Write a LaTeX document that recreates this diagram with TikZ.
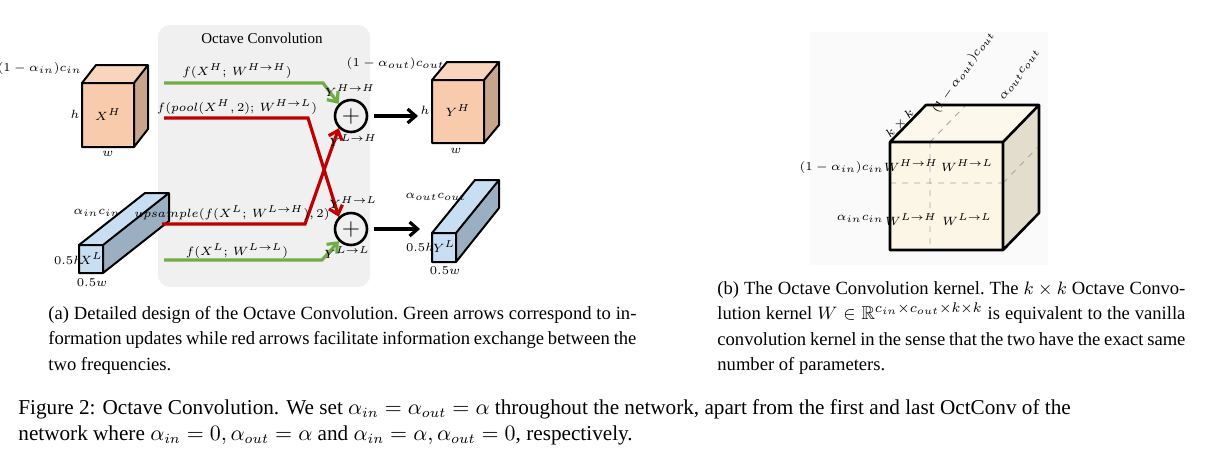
\documentclass[tikz,border=0pt]{standalone}
\usepackage{amssymb}
\usepackage{fontspec}
\setmainfont{Liberation Serif}
\usetikzlibrary{arrows.meta}
\definecolor{pk}{RGB}{248,203,173}\definecolor{pks}{RGB}{200,164,138}
\definecolor{bl}{RGB}{200,222,242}\definecolor{bls}{RGB}{155,175,194}
\definecolor{cr}{RGB}{252,246,231}\definecolor{crs}{RGB}{227,221,205}
\definecolor{gr}{RGB}{112,173,71}\definecolor{rd}{RGB}{192,0,0}
\definecolor{pan}{RGB}{240,240,240}\definecolor{kbg}{RGB}{250,250,250}
\begin{document}
\begin{tikzpicture}[x=0.5pt,y=-0.5pt,
  lab/.style={font=\fontsize{6}{7}\selectfont, inner sep=0pt},
  big/.style={font=\fontsize{7.5}{9}\selectfont, inner sep=0pt},
  garr/.style={draw=gr, line width=1.6pt, -{Straight Barb[length=4pt,width=7pt]}},
  rarr/.style={draw=rd, line width=1.6pt, -{Straight Barb[length=4pt,width=7pt]}},
  barr/.style={draw=black, line width=1.6pt, -{Straight Barb[length=4pt,width=7pt]}},
  cube/.style={draw=black, line width=1pt, line join=round},
  captxt/.style={font=\fontsize{9.3}{12.7}\selectfont, inner sep=0pt, anchor=north west, align=justify}]
\useasboundingbox (0,0) rectangle (1224,456);
% panel
\fill[pan, rounded corners=6pt] (158,25) rectangle (370,287);
\node[big] (title) at (262,38) {Octave Convolution};
% XH cube
\fill[pks] (134,83)--(148,65)--(148,129)--(134,147)--cycle;
\fill[pk!80!white] (82,83)--(96,65)--(148,65)--(134,83)--cycle;
\fill[pk] (82,83) rectangle (134,147);
\draw[cube] (82,83)--(96,65)--(148,65)--(148,129)--(134,147)--(82,147)--cycle (82,83)--(134,83)--(134,147) (134,83)--(148,65);
\node[lab] (xh) at (108,115) {$X^H$};
\node[lab,anchor=east] (cinh) at (82,68) {$(1-\alpha_{in})c_{in}$};
\node[lab] (hh) at (75,114) {$h$};
\node[lab] (wh) at (108,154) {$w$};
% XL cube
\fill[bls] (103,245)--(169,193)--(169,221)--(103,273)--cycle;
\fill[bl] (79,245)--(145,193)--(169,193)--(103,245)--cycle;
\fill[bl] (79,245) rectangle (103,273);
\draw[cube] (79,245)--(145,193)--(169,193)--(169,221)--(103,273)--(79,273)--cycle (79,245)--(103,245)--(103,273) (103,245)--(169,193);
\node[lab] (xl) at (91,259) {$X^L$};
\node[lab] (cinl) at (97,213) {$\alpha_{in}c_{in}$};
\node[lab] (hl) at (68,260) {$0.5h$};
\node[lab] (wl) at (92,283) {$0.5w$};
% sums
\node[draw, circle, line width=1.3pt, minimum size=16pt, inner sep=0pt, font=\bfseries\large] (s1) at (351,116) {$+$};
\node[draw, circle, line width=1.3pt, minimum size=16pt, inner sep=0pt, font=\bfseries\large] (s2) at (351,229) {$+$};
\coordinate (g1a) at (164,83); \coordinate (g1b) at (323,83);
\coordinate (r1a) at (164,118); \coordinate (r1b) at (308,118);
\coordinate (r2a) at (162,224); \coordinate (r2b) at (305,224);
\coordinate (g2a) at (164,260); \coordinate (g2b) at (322,260);
\draw[garr] (g1a)--(g1b)--(s1.north west);
\draw[rarr] (r1a)--(r1b)--(s2.north west);
\draw[rarr] (r2a)--(r2b)--(s1.south west);
\draw[garr] (g2a)--(g2b)--(s2.south west);
\node[lab] (l1) at (237,71) {$f(X^H;\,W^{H\to H})$};
\node[lab] (l2) at (237,107) {$f(pool(X^H,2);\,W^{H\to L})$};
\node[lab] (l3) at (232,213) {$upsample(f(X^L;\,W^{L\to H}),2)$};
\node[lab] (l4) at (237,251) {$f(X^L;\,W^{L\to L})$};
\node[lab] (y1) at (350,91) {$Y^{H\to H}$};
\node[lab] (y2) at (353,141) {$Y^{L\to H}$};
\node[lab] (y3) at (353,203) {$Y^{H\to L}$};
\node[lab] (y4) at (347,253) {$Y^{L\to L}$};
% YH cube
\fill[pks] (484,80)--(499,62)--(499,125)--(484,143)--cycle;
\fill[pk!80!white] (432,80)--(447,62)--(499,62)--(484,80)--cycle;
\fill[pk] (432,80) rectangle (484,143);
\draw[cube] (432,80)--(447,62)--(499,62)--(499,125)--(484,143)--(432,143)--cycle (432,80)--(484,80)--(484,143) (484,80)--(499,62);
\node[lab] (yh) at (458,111) {$Y^H$};
\node[lab,anchor=east] (couth) at (445,63) {$(1-\alpha_{out})c_{out}$};
\node[lab] (hh2) at (425,110) {$h$};
\node[lab] (wh2) at (456,151) {$w$};
% YL cube
\fill[bls] (456,233)--(499,180)--(499,208)--(456,262)--cycle;
\fill[bl] (432,233)--(475,180)--(499,180)--(456,233)--cycle;
\fill[bl] (432,233) rectangle (456,262);
\draw[cube] (432,233)--(475,180)--(499,180)--(499,208)--(456,262)--(432,262)--cycle (432,233)--(456,233)--(456,262) (456,233)--(499,180);
\node[lab] (yl) at (444,247) {$Y^L$};
\node[lab] (coutl) at (436,197) {$\alpha_{out}c_{out}$};
\node[lab] (hl2) at (420,247) {$0.5h$};
\node[lab] (wl2) at (445,271) {$0.5w$};
\coordinate (yhin) at (418,116);
\coordinate (ylin) at (420,229);
\draw[barr] ([xshift=3pt]s1.east) -- (yhin);
\draw[barr] ([xshift=3pt]s2.east) -- (ylin);
% kernel
\fill[kbg] (810,32) rectangle (1048,265);
\fill[crs] (1003,142)--(1039,105)--(1039,213)--(1003,250)--cycle;
\fill[cr!80!white] (890,142)--(926,105)--(1039,105)--(1003,142)--cycle;
\fill[cr] (890,142) rectangle (1003,250);
\draw[gray!70, dashed, thin] (930,142)--(930,250) (890,183)--(1003,183) (1003,183)--(1039,146) (930,142)--(966,105);
\draw[cube, line width=1.3pt] (890,142)--(926,105)--(1039,105)--(1039,213)--(1003,250)--(890,250)--cycle (890,142)--(1003,142)--(1003,250) (1003,142)--(1039,105);
\node[lab] (w1) at (911,166) {$W^{H\to H}$};
\node[lab] (w2) at (967,166) {$W^{H\to L}$};
\node[lab] (w3) at (911,220) {$W^{L\to H}$};
\node[lab] (w4) at (967,220) {$W^{L\to L}$};
\node[lab,anchor=east] (k1) at (884,167) {$(1-\alpha_{in})c_{in}$};
\node[lab,anchor=east] (k2) at (884,219) {$\alpha_{in}c_{in}$};
\node[lab,rotate=45] (kk) at (900,124) {$k\times k$};
\node[lab,rotate=55] (ko1) at (963,72) {$(1-\alpha_{out})c_{out}$};
\node[lab,rotate=55] (ko2) at (1020,75) {$\alpha_{out}c_{out}$};
% captions
\node[captxt, text width=294pt] (capa) at (48,306) {(a) Detailed design of the Octave Convolution.\ Green arrows correspond to information updates while red arrows facilitate information exchange between the two frequencies.};
\node[captxt, text width=234pt] (capb) at (717,281) {(b) The Octave Convolution kernel.\ The $k\times k$ Octave Convolution kernel $W\in\mathbb{R}^{c_{in}\times c_{out}\times k\times k}$ is equivalent to the vanilla convolution kernel in the sense that the two have the exact same number of parameters.};
\node[captxt, font=\fontsize{10.6}{13}\selectfont, align=left] (capf) at (18,399) {Figure 2: Octave Convolution. We set $\alpha_{in}=\alpha_{out}=\alpha$ throughout the network, apart from the first and last OctConv of the\\ network where $\alpha_{in}=0,\alpha_{out}=\alpha$ and $\alpha_{in}=\alpha,\alpha_{out}=0$, respectively.};
\end{tikzpicture}
\end{document}
